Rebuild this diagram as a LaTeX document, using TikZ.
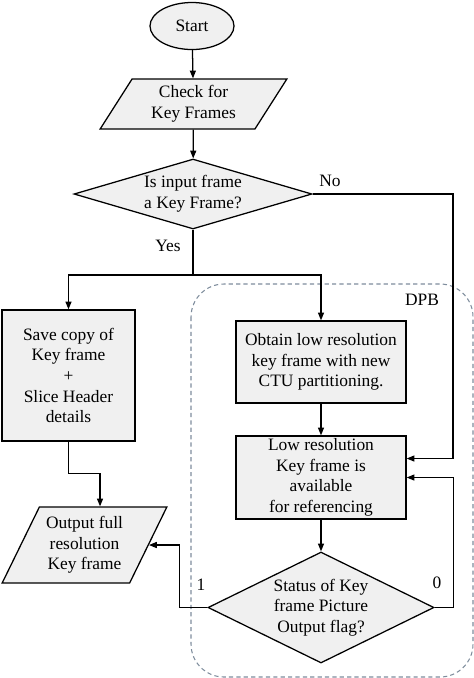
\documentclass[tikz,border=0pt]{standalone}
\usepackage{fontspec}
\setmainfont{Liberation Serif}
\newfontfamily\flowfont{Liberation Serif}
\usetikzlibrary{shapes.geometric,arrows.meta}
\definecolor{boxgray}{HTML}{F0F0F0}
\definecolor{dpbblue}{HTML}{7E8C9C}

\begin{document}
\begin{tikzpicture}[font=\flowfont\fontsize{16.5}{19.5}\selectfont, line width=1.2pt, >={Triangle[length=2.6mm,width=2mm]}]
        \tikzstyle{term}=[ellipse,draw,fill=boxgray,minimum width=2.8cm,minimum height=1.567cm,inner sep=0pt]
        \tikzstyle{io}=[trapezium,draw,fill=boxgray,trapezium stretches=true,trapezium left angle=59,trapezium right angle=121,inner sep=0pt,align=center]
        \tikzstyle{proc}=[rectangle,draw,fill=boxgray,align=center,inner sep=0pt,minimum width=5.667cm]
        \tikzstyle{decision}=[diamond,draw,fill=boxgray,align=center,inner sep=0pt]

        \useasboundingbox (0,0) rectangle (15.8,-22.6);

        % DPB region
        \draw[dpbblue, dash pattern=on 4pt off 3pt, rounded corners=1.1cm, line width=1pt] (6.367,-9.467) rectangle (15.767,-22.567);
        \node (dpb) at (14.067,-10.0) {DPB};

        \node (start)[term] at (6.4,-0.867) {Start};
        \node (check)[io, minimum width=6.233cm, minimum height=1.667cm] at (6.45,-3.467) {Check for\\Key Frames};
        \node (keyq)[decision, shape aspect=3.4, minimum width=7.933cm, minimum height=2.333cm] at (6.433,-6.467) {Is input frame\\a Key Frame?};
        \node (save)[proc, minimum width=4.433cm, minimum height=4.367cm] at (2.283,-12.517) {Save copy of\\Key frame\\+\\Slice Header\\details};
        \node (outkey)[io, trapezium left angle=61, trapezium right angle=119, minimum width=5.5cm, minimum height=2.533cm] at (2.817,-18.167) {Output full\\resolution\\Key frame};
        \node (lowres)[proc, minimum height=2.733cm] at (10.7,-12.067) {Obtain low resolution\\key frame with new\\CTU partitioning.};
        \node (avail)[proc, minimum height=2.767cm] at (10.7,-15.917) {Low resolution\\Key frame is\\available\\for referencing};
        \node (flagq)[decision, shape aspect=2.04, minimum width=7.533cm, minimum height=3.7cm] at (10.7,-20.25) {Status of Key\\frame Picture\\Output flag?};

        \coordinate (nocorner) at (15.1,-6.467);
        \coordinate (split) at (6.433,-9.167);

        \draw[->] (start) -- (check);
        \draw[->] (check) -- (keyq);
        \draw[->] (keyq.east) -- (nocorner) |- ([yshift=0.633cm]avail.east);
        \draw (keyq.south) -- (split);
        \draw[->] (split) -| (save.north);
        \draw[->] (split) -| (lowres.north);
        \draw[->] (save.south) -- ++(0,-1.067) -| ([xshift=0.517cm]outkey.north);
        \draw[->] (lowres) -- (avail);
        \draw[->] (avail) -- (flagq);
        \draw[->] (flagq.west) -- ++(-0.933,0) |- (outkey.east);
        \draw[->] (flagq.east) -- ++(0.633,0) |- (avail.east);

        \node (no) at (11.0,-6.033) {No};
        \node (yes) at (5.6,-8.2) {Yes};
        \node (one) at (6.7,-19.5) {1};
        \node (zero) at (14.567,-19.433) {0};
    \end{tikzpicture}
\end{document}
